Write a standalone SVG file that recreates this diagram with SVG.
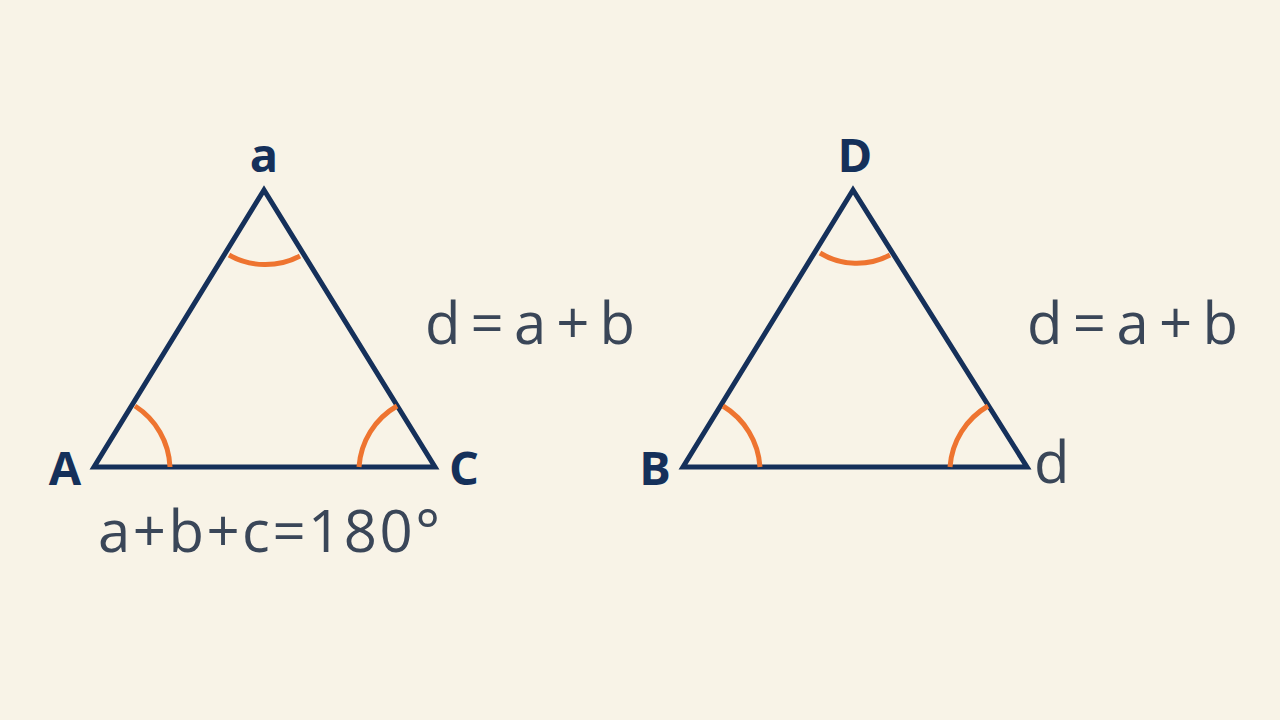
<svg xmlns="http://www.w3.org/2000/svg" width="1280" height="720" viewBox="0 0 1280 720">
<style>
.tri{fill:none;stroke:#15305a;stroke-width:5;stroke-linejoin:miter}
.arc{fill:none;stroke:#ee7430;stroke-width:5}
.lbl{font-family:"Open Sans","Liberation Sans",sans-serif;font-weight:700;fill:#15305a;font-size:47px}
.eq{font-family:"Open Sans","Liberation Sans",sans-serif;fill:#3a4658;font-size:58px}
</style>
<rect width="1280" height="720" fill="#f8f3e7"/>
<g id="triangle-left">
<polygon class="tri" points="264,190 94,467 435,467"/>
<path class="arc" d="M229,255 A74,74 0 0 0 300,256"/>
<path class="arc" d="M135,406 A76,76 0 0 1 170,467"/>
<path class="arc" d="M397,406 A76,76 0 0 0 359,467"/>
<text class="lbl" x="264" y="172" text-anchor="middle">a</text>
<text class="lbl" x="65" y="485" text-anchor="middle">A</text>
<text class="lbl" x="464" y="485" text-anchor="middle">C</text>
</g>
<g id="triangle-right">
<polygon class="tri" points="853,190 683,467 1027,467"/>
<path class="arc" d="M820,253 A71,71 0 0 0 890,255"/>
<path class="arc" d="M723,406 A77,77 0 0 1 760,467"/>
<path class="arc" d="M988,406 A77,77 0 0 0 950,467"/>
<text class="lbl" x="855" y="172" text-anchor="middle">D</text>
<text class="lbl" x="655" y="485" text-anchor="middle">B</text>
<text class="eq" x="1034" y="483" font-size="56">d</text>
</g>
<g id="labels">
<text class="eq" x="425" y="344" textLength="210" lengthAdjust="spacing">d=a+b</text>
<text class="eq" x="1027" y="344" textLength="211" lengthAdjust="spacing">d=a+b</text>
<text class="eq" x="98" y="552" font-size="60" textLength="342" lengthAdjust="spacing">a+b+c=180°</text>
</g>
</svg>
